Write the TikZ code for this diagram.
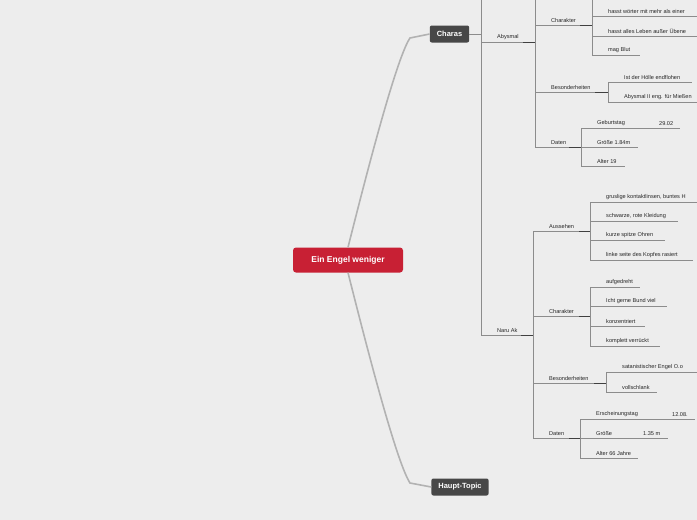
\documentclass[tikz,border=0pt]{standalone}
\usepackage{fontspec}
\setmainfont{Liberation Sans}
\begin{document}
\begin{tikzpicture}[x=1pt,y=-1pt,
  lf/.style={font=\fontsize{5.6}{6}\selectfont,text=black!85,inner sep=0pt,anchor=south west},
  ln/.style={draw=black!45,line width=0.6pt},
  tp/.style={fill=black!72,text=white,font=\bfseries\fontsize{7.5}{8}\selectfont,rounded corners=2pt,minimum height=17pt,inner xsep=7pt}]
\fill[black!7] (0,0) rectangle (697,520);
\useasboundingbox (0,0) rectangle (697,520);
\newcommand{\leaf}[6]{% name, x0, x1, y, text
  \draw[ln] (#2,#4) -- (#3,#4);
  \node[lf] (#1) at (#2+16,#4-2) {#5};}
\node[fill={rgb,255:red,200;green,32;blue,52},text=white,font=\bfseries\fontsize{8.5}{9}\selectfont,rounded corners=3pt,minimum width=110pt,minimum height=25pt] (root) at (348,260) {Ein Engel weniger};
\node[tp] (charas) at (449.5,34) {Charas};
\node[tp] (haupt) at (460,487) {Haupt-Topic};
\draw[black!30,line width=1.6pt] (root.north) .. controls (360,200) and (395,60) .. (410,38) -- (charas.west);
\draw[black!30,line width=1.6pt] (root.south) .. controls (360,320) and (395,460) .. (410,483) -- (haupt.west);
\draw[ln] (charas.east) -- (481,34);
\draw[ln] (481,0) -- (481,335);
% Abysmal
\leaf{aby}{481}{535}{42}{Abysmal}{}
\draw[black!75,line width=1pt] (523,42)--(535,42);
\draw[ln] (535,0) -- (535,147);
\leaf{ch1}{535}{590}{25}{Charakter}{}
\draw[black!75,line width=1pt] (580,25)--(592,25);
\draw[ln] (592,0) -- (592,55);
\leaf{l1}{592}{697}{16}{hasst wörter mit mehr als einer}{}
\leaf{l2}{592}{697}{36}{hasst alles Leben außer Übene}{}
\leaf{l3}{592}{640}{55}{mag Blut}{}
\leaf{b1}{535}{607}{92}{Besonderheiten}{}
\draw[black!75,line width=1pt] (595,92)--(608,92);
\draw[ln] (608,82) -- (608,102);
\leaf{l4}{608}{692}{82}{Ist der Hölle endflohen}{}
\leaf{l5}{608}{697}{102}{Abysmal II eng. für Mießen}{}
\leaf{d1}{535}{580}{147}{Daten}{}
\draw[black!75,line width=1pt] (569,147)--(581,147);
\draw[ln] (581,128) -- (581,166);
\leaf{l6}{581}{680}{128}{Geburtstag}{}
\node[lf] (l6b) at (659,126) {29.02};
\leaf{l7}{581}{638}{147}{Größe 1.84m}{}
\leaf{l8}{581}{625}{166}{Alter 19}{}
% Naru Ak
\leaf{naru}{481}{533}{335}{Naru Ak}{}
\draw[black!75,line width=1pt] (521,335)--(533,335);
\draw[ln] (533,231) -- (533,438);
\leaf{a2}{533}{590}{231}{Aussehen}{}
\draw[black!75,line width=1pt] (579,231)--(590,231);
\draw[ln] (590,202) -- (590,260);
\leaf{m1}{590}{697}{202}{gruslige kontaktlinsen, buntes H}{}
\leaf{m2}{590}{678}{221}{schwarze, rote Kleidung}{}
\leaf{m3}{590}{665}{240}{kurze spitze Ohren}{}
\leaf{m4}{590}{693}{260}{linke seite des Kopfes rasiert}{}
\leaf{ch2}{533}{590}{316}{Charakter}{}
\draw[black!75,line width=1pt] (579,316)--(590,316);
\draw[ln] (590,287) -- (590,346);
\leaf{m5}{590}{640}{287}{aufgedreht}{}
\leaf{m6}{590}{667}{306}{Icht gerne Bund viel}{}
\leaf{m7}{590}{645}{326}{konzentriert}{}
\leaf{m8}{590}{660}{346}{komplett verrückt}{}
\leaf{b2}{533}{605}{383}{Besonderheiten}{}
\draw[black!75,line width=1pt] (594,383)--(606,383);
\draw[ln] (606,372) -- (606,392);
\leaf{m9}{606}{697}{372}{satanistischer Engel O.o}{}
\leaf{m10}{606}{657}{392}{vollschlank}{}
\leaf{d2}{533}{580}{438}{Daten}{}
\draw[black!75,line width=1pt] (569,438)--(580,438);
\draw[ln] (580,419) -- (580,458);
\leaf{m11}{580}{695}{419}{Erscheinungstag}{}
\node[lf] (m11b) at (672,417) {12.08.};
\leaf{m12}{580}{668}{438}{Größe}{}
\node[lf] (m12b) at (643,436) {1.35 m};
\leaf{m13}{580}{638}{458}{Alter 66 Jahre}{}
\end{tikzpicture}
\end{document}
